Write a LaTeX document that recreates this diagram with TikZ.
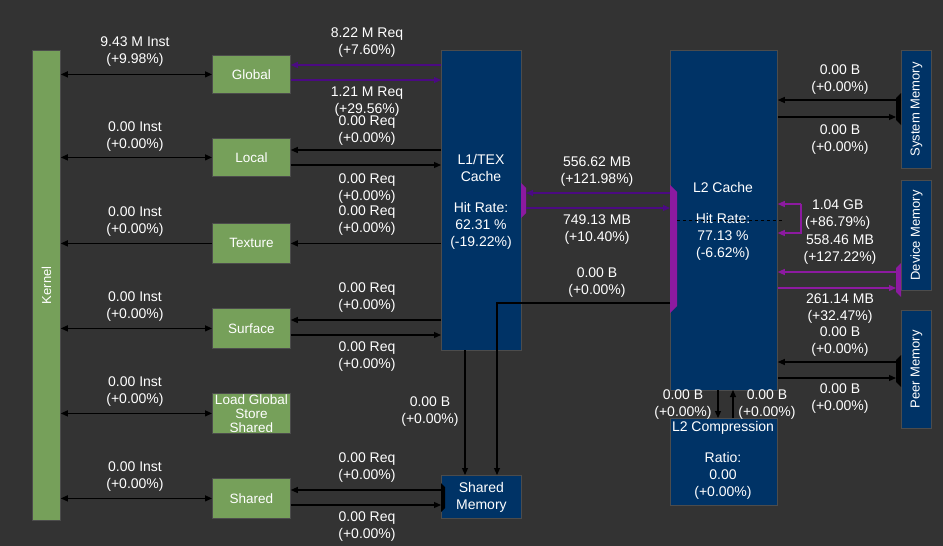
\documentclass[tikz,border=0pt]{standalone}
\usepackage{fontspec}
\setmainfont{Liberation Sans}
\usetikzlibrary{arrows.meta}
\definecolor{bg}{HTML}{333333}
\definecolor{grn}{HTML}{76A05A}
\definecolor{blu}{HTML}{003366}
\definecolor{dpur}{HTML}{4B0A82}
\definecolor{mpur}{HTML}{8C1AA0}
\begin{document}
\begin{tikzpicture}[x=1pt,y=-1pt,
  lbl/.style={text=white,font=\fontsize{14}{17}\selectfont,align=center,inner sep=0},
  gbox/.style={fill=grn,draw=black!70,line width=0.8pt,text=white,font=\fontsize{13.5}{14}\selectfont,align=center,inner sep=0},
  bbox/.style={fill=blu,draw=black!70,line width=0.8pt,text=white,font=\fontsize{14}{17}\selectfont,align=center,inner sep=0},
  ar/.style={-{Triangle[length=7pt,width=6pt]},line width=1.2pt,black},
  dar/.style={{Triangle[length=7pt,width=6pt]}-{Triangle[length=7pt,width=6pt]},line width=1.2pt,black},
  pd/.style={-{Triangle[length=7pt,width=6pt]},line width=1.2pt,dpur},
  pm/.style={-{Triangle[length=7pt,width=6pt]},line width=1.2pt,mpur}]
\fill[bg] (0,0) rectangle (943,546);
\useasboundingbox (0,0) rectangle (943,546);
% boxes
\node[gbox,minimum width=28,minimum height=470,anchor=north west] (kern) at (32,50) {};
\node[lbl,rotate=90,font=\fontsize{13}{15}\selectfont] at (kern.center) {Kernel};
\node[gbox,minimum width=78,minimum height=38,anchor=north west] (glob) at (212,55) {Global};
\node[gbox,minimum width=78,minimum height=38,anchor=north west] (loc) at (212,138) {Local};
\node[gbox,minimum width=78,minimum height=40,anchor=north west] (tex) at (212,223) {Texture};
\node[gbox,minimum width=78,minimum height=40,anchor=north west] (surf) at (212,308) {Surface};
\node[gbox,minimum width=78,minimum height=40,anchor=north west] (lgs) at (212,393) {Load Global\\Store\\Shared};
\node[gbox,minimum width=78,minimum height=40,anchor=north west] (sh) at (212,478) {Shared};
\node[bbox,minimum width=80,minimum height=300,anchor=north west] (l1) at (441,50) {};
\node[lbl] at (481,202) {L1/TEX\\Cache\\[14pt]Hit Rate:\\62.31 \%\\(-19.22\%)};
\node[bbox,minimum width=80,minimum height=43,anchor=north west] (smem) at (441,475) {Shared\\Memory};
\node[bbox,minimum width=107,minimum height=340,anchor=north west] (l2) at (670,50) {};
\node[lbl] at (723,221) {L2 Cache\\[14pt]Hit Rate:\\77.13 \%\\(-6.62\%)};
\node[bbox,minimum width=107,minimum height=87,anchor=north west] (l2c) at (670,418) {};
\node[lbl,anchor=north] at (723,421) {L2 Compression\\[14pt]Ratio:\\0.00\\(+0.00\%)};
\node[bbox,minimum width=30,minimum height=118,anchor=north west] (sys) at (901,50) {};
\node[bbox,minimum width=30,minimum height=110,anchor=north west] (dev) at (901,180) {};
\node[bbox,minimum width=30,minimum height=118,anchor=north west] (peer) at (901,310) {};
\foreach \n/\t in {sys/System Memory,dev/Device Memory,peer/Peer Memory}
  \node[lbl,rotate=90,font=\fontsize{13}{15}\selectfont] at (\n.center) {\t};
% ports
\fill[mpur] (521,183) -- (526,188) -- (526,213) -- (521,218) -- cycle;
\fill[mpur] (670,185) -- (677,192) -- (677,306) -- (670,313) -- cycle;
\fill[mpur] (901,263) -- (896,268) -- (896,292) -- (901,297) -- cycle;
\fill[black] (901,93) -- (896,98) -- (896,120) -- (901,125) -- cycle;
\fill[black] (901,355) -- (896,360) -- (896,382) -- (901,387) -- cycle;
\fill[black] (441,483) -- (445,487) -- (445,508) -- (441,512) -- cycle;
% kernel links
\draw[dar] (kern.east|-glob) -- (glob.west);
\draw[dar] (kern.east|-loc) -- (loc.west);
\draw[ar] (tex.west) -- (kern.east|-tex);
\draw[dar] (kern.east|-surf) -- (surf.west);
\draw[dar] (kern.east|-lgs) -- (lgs.west);
\draw[dar] (kern.east|-sh) -- (sh.west);
\node[lbl] at (135,52) {9.43 M Inst\\(+9.98\%)};
\foreach \y in {137,222,307,392,477} \node[lbl] at (135,\y) {0.00 Inst\\(+0.00\%)};
% L1 links
\draw[pd] (l1.west|-0,65) -- (glob.east|-0,65);
\draw[pd] (glob.east|-0,80) -- (l1.west|-0,80);
\draw[ar] (l1.west|-0,150) -- (loc.east|-0,150);
\draw[ar] (loc.east|-0,165) -- (l1.west|-0,165);
\draw[ar] (l1.west|-tex) -- (tex.east);
\draw[ar] (l1.west|-0,320) -- (surf.east|-0,320);
\draw[ar] (surf.east|-0,335) -- (l1.west|-0,335);
\draw[ar] (smem.west|-0,490) -- (sh.east|-0,490);
\draw[ar] (sh.east|-0,505) -- (smem.west|-0,505);
\node[lbl] at (367,43) {8.22 M Req\\(+7.60\%)};
\node[lbl] at (367,102) {1.21 M Req\\(+29.56\%)};
\node[lbl] at (367,131) {0.00 Req\\(+0.00\%)};
\node[lbl] at (367,189) {0.00 Req\\(+0.00\%)};
\node[lbl] at (367,221) {0.00 Req\\(+0.00\%)};
\node[lbl] at (367,298) {0.00 Req\\(+0.00\%)};
\node[lbl] at (367,357) {0.00 Req\\(+0.00\%)};
\node[lbl] at (367,468) {0.00 Req\\(+0.00\%)};
\node[lbl] at (367,527) {0.00 Req\\(+0.00\%)};
% L1 - shared memory, L2 - shared memory
\draw[ar] (465,350) -- (465,475);
\draw[ar] (670,303) -- (497,303) -- (497,475);
\node[lbl] at (430,412) {0.00 B\\(+0.00\%)};
\node[lbl] at (597,283) {0.00 B\\(+0.00\%)};
% L1 - L2
\draw[pd] (l2.west|-0,193) -- (526,193);
\draw[pd] (526,208) -- (l2.west|-0,208);
\node[lbl] at (597,172) {556.62 MB\\(+121.98\%)};
\node[lbl] at (597,230) {749.13 MB\\(+10.40\%)};
\draw[dashed,black,line width=1pt] (677,220) -- (782,220);
% L2 - system
\draw[ar] (sys.west|-0,100) -- (l2.east|-0,100);
\draw[ar] (l2.east|-0,117) -- (896,117);
\node[lbl] at (840,80) {0.00 B\\(+0.00\%)};
\node[lbl] at (840,140) {0.00 B\\(+0.00\%)};
% L2 - device
\draw[pm] (801,204) -- (801,233) -- (l2.east|-0,233);
\draw[pm] (801,204) -- (l2.east|-0,204);
\node[lbl,anchor=west] at (805,215) {1.04 GB\\(+86.79\%)};
\draw[pm] (896,272) -- (l2.east|-0,272);
\draw[pm] (l2.east|-0,288) -- (896,288);
\node[lbl] at (840,250) {558.46 MB\\(+127.22\%)};
\node[lbl] at (840,309) {261.14 MB\\(+32.47\%)};
% L2 - peer
\draw[ar] (896,362) -- (l2.east|-0,362);
\draw[ar] (l2.east|-0,378) -- (896,378);
\node[lbl] at (840,342) {0.00 B\\(+0.00\%)};
\node[lbl] at (840,399) {0.00 B\\(+0.00\%)};
% L2 - compression
\draw[ar] (718,390) -- (718,418);
\draw[ar] (733,418) -- (733,390);
\node[lbl] at (683,405) {0.00 B\\(+0.00\%)};
\node[lbl] at (767,405) {0.00 B\\(+0.00\%)};
\end{tikzpicture}
\end{document}
